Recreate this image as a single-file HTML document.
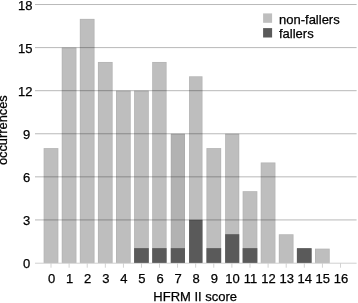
<!DOCTYPE html>
<html><head><meta charset="utf-8"><title>HFRM II score</title>
<style>
html,body{margin:0;padding:0;background:#fff;}
.t{font-family:"Liberation Sans",Arial,sans-serif;font-size:13px;fill:#000;stroke:#000;stroke-width:0.25px;}
</style></head><body>
<svg width="358" height="303" viewBox="0 0 358 303" style="display:block">
<rect width="358" height="303" fill="#fff"/>
<rect x="35" y="262.70" width="321.6" height="1.0" fill="#d0d0d0"/>
<rect x="43.65" y="148.12" width="14.70" height="114.73" fill="#bebebe"/>
<rect x="44.05" y="148.52" width="13.90" height="114.33" fill="none" stroke="#000" stroke-opacity="0.05" stroke-width="0.8"/>
<rect x="61.74" y="47.60" width="14.70" height="215.25" fill="#bebebe"/>
<rect x="62.14" y="48.00" width="13.90" height="214.85" fill="none" stroke="#000" stroke-opacity="0.05" stroke-width="0.8"/>
<rect x="79.83" y="18.88" width="14.70" height="243.97" fill="#bebebe"/>
<rect x="80.23" y="19.28" width="13.90" height="243.57" fill="none" stroke="#000" stroke-opacity="0.05" stroke-width="0.8"/>
<rect x="97.92" y="61.96" width="14.70" height="200.89" fill="#bebebe"/>
<rect x="98.32" y="62.36" width="13.90" height="200.49" fill="none" stroke="#000" stroke-opacity="0.05" stroke-width="0.8"/>
<rect x="116.01" y="90.68" width="14.70" height="172.17" fill="#bebebe"/>
<rect x="116.41" y="91.08" width="13.90" height="171.77" fill="none" stroke="#000" stroke-opacity="0.05" stroke-width="0.8"/>
<rect x="134.10" y="90.68" width="14.70" height="172.17" fill="#bebebe"/>
<rect x="134.50" y="91.08" width="13.90" height="171.77" fill="none" stroke="#000" stroke-opacity="0.05" stroke-width="0.8"/>
<rect x="134.10" y="248.14" width="14.70" height="14.71" fill="#5a5a5a"/>
<rect x="152.19" y="61.96" width="14.40" height="200.89" fill="#bebebe"/>
<rect x="152.59" y="62.36" width="13.60" height="200.49" fill="none" stroke="#000" stroke-opacity="0.05" stroke-width="0.8"/>
<rect x="152.19" y="248.14" width="14.40" height="14.71" fill="#5a5a5a"/>
<rect x="170.78" y="133.76" width="14.20" height="129.09" fill="#b2b2b2"/>
<rect x="171.18" y="134.16" width="13.40" height="128.69" fill="none" stroke="#000" stroke-opacity="0.05" stroke-width="0.8"/>
<rect x="170.78" y="248.14" width="14.20" height="14.71" fill="#5a5a5a"/>
<rect x="189.07" y="76.32" width="13.40" height="186.53" fill="#bebebe"/>
<rect x="189.47" y="76.72" width="12.60" height="186.13" fill="none" stroke="#000" stroke-opacity="0.05" stroke-width="0.8"/>
<rect x="189.07" y="219.82" width="13.40" height="43.03" fill="#5a5a5a"/>
<rect x="206.46" y="148.12" width="14.70" height="114.73" fill="#bebebe"/>
<rect x="206.86" y="148.52" width="13.90" height="114.33" fill="none" stroke="#000" stroke-opacity="0.05" stroke-width="0.8"/>
<rect x="206.46" y="248.14" width="14.70" height="14.71" fill="#5a5a5a"/>
<rect x="225.15" y="133.76" width="14.10" height="129.09" fill="#bebebe"/>
<rect x="225.55" y="134.16" width="13.30" height="128.69" fill="none" stroke="#000" stroke-opacity="0.05" stroke-width="0.8"/>
<rect x="225.15" y="234.18" width="14.10" height="28.67" fill="#5a5a5a"/>
<rect x="242.64" y="191.20" width="14.70" height="71.65" fill="#bebebe"/>
<rect x="243.04" y="191.60" width="13.90" height="71.25" fill="none" stroke="#000" stroke-opacity="0.05" stroke-width="0.8"/>
<rect x="242.64" y="248.14" width="14.70" height="14.71" fill="#5a5a5a"/>
<rect x="260.73" y="162.48" width="14.70" height="100.37" fill="#bebebe"/>
<rect x="261.13" y="162.88" width="13.90" height="99.97" fill="none" stroke="#000" stroke-opacity="0.05" stroke-width="0.8"/>
<rect x="278.82" y="234.28" width="14.70" height="28.57" fill="#bebebe"/>
<rect x="279.22" y="234.68" width="13.90" height="28.17" fill="none" stroke="#000" stroke-opacity="0.05" stroke-width="0.8"/>
<rect x="296.91" y="248.64" width="14.70" height="14.21" fill="#bebebe"/>
<rect x="297.31" y="249.04" width="13.90" height="13.81" fill="none" stroke="#000" stroke-opacity="0.05" stroke-width="0.8"/>
<rect x="296.91" y="248.14" width="14.70" height="14.71" fill="#5a5a5a"/>
<rect x="315.00" y="248.64" width="14.70" height="14.21" fill="#bebebe"/>
<rect x="315.40" y="249.04" width="13.90" height="13.81" fill="none" stroke="#000" stroke-opacity="0.05" stroke-width="0.8"/>
<rect x="35" y="219.42" width="321.6" height="1" fill="#000" fill-opacity="0.28"/>
<rect x="35" y="176.34" width="321.6" height="1" fill="#000" fill-opacity="0.28"/>
<rect x="35" y="133.26" width="321.6" height="1" fill="#000" fill-opacity="0.28"/>
<rect x="35" y="90.18" width="321.6" height="1" fill="#000" fill-opacity="0.28"/>
<rect x="35" y="47.10" width="321.6" height="1" fill="#000" fill-opacity="0.28"/>
<rect x="35" y="4.02" width="321.6" height="1" fill="#000" fill-opacity="0.28"/>
<rect x="50.60" y="263.70" width="0.8" height="4.0" fill="#000" fill-opacity="0.22"/>
<text transform="translate(51.50,283.00) scale(1,1.0)" text-anchor="middle" class="t">0</text>
<rect x="68.69" y="263.70" width="0.8" height="4.0" fill="#000" fill-opacity="0.22"/>
<text transform="translate(69.59,283.00) scale(1,1.0)" text-anchor="middle" class="t">1</text>
<rect x="86.78" y="263.70" width="0.8" height="4.0" fill="#000" fill-opacity="0.22"/>
<text transform="translate(87.68,283.00) scale(1,1.0)" text-anchor="middle" class="t">2</text>
<rect x="104.87" y="263.70" width="0.8" height="4.0" fill="#000" fill-opacity="0.22"/>
<text transform="translate(105.77,283.00) scale(1,1.0)" text-anchor="middle" class="t">3</text>
<rect x="122.96" y="263.70" width="0.8" height="4.0" fill="#000" fill-opacity="0.22"/>
<text transform="translate(123.86,283.00) scale(1,1.0)" text-anchor="middle" class="t">4</text>
<rect x="141.05" y="263.70" width="0.8" height="4.0" fill="#000" fill-opacity="0.22"/>
<text transform="translate(141.95,283.00) scale(1,1.0)" text-anchor="middle" class="t">5</text>
<rect x="159.14" y="263.70" width="0.8" height="4.0" fill="#000" fill-opacity="0.22"/>
<text transform="translate(160.04,283.00) scale(1,1.0)" text-anchor="middle" class="t">6</text>
<rect x="177.23" y="263.70" width="0.8" height="4.0" fill="#000" fill-opacity="0.22"/>
<text transform="translate(178.13,283.00) scale(1,1.0)" text-anchor="middle" class="t">7</text>
<rect x="195.32" y="263.70" width="0.8" height="4.0" fill="#000" fill-opacity="0.22"/>
<text transform="translate(196.22,283.00) scale(1,1.0)" text-anchor="middle" class="t">8</text>
<rect x="213.41" y="263.70" width="0.8" height="4.0" fill="#000" fill-opacity="0.22"/>
<text transform="translate(214.31,283.00) scale(1,1.0)" text-anchor="middle" class="t">9</text>
<rect x="231.50" y="263.70" width="0.8" height="4.0" fill="#000" fill-opacity="0.22"/>
<text transform="translate(232.40,283.00) scale(1,1.0)" text-anchor="middle" class="t">10</text>
<rect x="249.59" y="263.70" width="0.8" height="4.0" fill="#000" fill-opacity="0.22"/>
<text transform="translate(250.49,283.00) scale(1,1.0)" text-anchor="middle" class="t">11</text>
<rect x="267.68" y="263.70" width="0.8" height="4.0" fill="#000" fill-opacity="0.22"/>
<text transform="translate(268.58,283.00) scale(1,1.0)" text-anchor="middle" class="t">12</text>
<rect x="285.77" y="263.70" width="0.8" height="4.0" fill="#000" fill-opacity="0.22"/>
<text transform="translate(286.67,283.00) scale(1,1.0)" text-anchor="middle" class="t">13</text>
<rect x="303.86" y="263.70" width="0.8" height="4.0" fill="#000" fill-opacity="0.22"/>
<text transform="translate(304.76,283.00) scale(1,1.0)" text-anchor="middle" class="t">14</text>
<rect x="321.95" y="263.70" width="0.8" height="4.0" fill="#000" fill-opacity="0.22"/>
<text transform="translate(322.85,283.00) scale(1,1.0)" text-anchor="middle" class="t">15</text>
<rect x="340.04" y="263.70" width="0.8" height="4.0" fill="#000" fill-opacity="0.22"/>
<text transform="translate(340.94,283.00) scale(1,1.0)" text-anchor="middle" class="t">16</text>
<text transform="translate(30.20,267.90) scale(1,1.0)" text-anchor="end" class="t">0</text>
<text transform="translate(30.20,224.82) scale(1,1.0)" text-anchor="end" class="t">3</text>
<text transform="translate(30.20,181.74) scale(1,1.0)" text-anchor="end" class="t">6</text>
<text transform="translate(30.20,138.66) scale(1,1.0)" text-anchor="end" class="t">9</text>
<text transform="translate(32.40,95.58) scale(1,1.0)" text-anchor="end" class="t">12</text>
<text transform="translate(32.40,52.50) scale(1,1.0)" text-anchor="end" class="t">15</text>
<text transform="translate(32.40,10.42) scale(1,1.0)" text-anchor="end" class="t">18</text>
<rect x="263.1" y="13.4" width="9" height="9.4" fill="#bebebe"/>
<rect x="263.1" y="28.1" width="9" height="9.4" fill="#5a5a5a"/>
<text transform="translate(279.00,23.70) scale(1,1.0)" class="t">non-fallers</text>
<text transform="translate(279.00,38.00) scale(1,1.0)" class="t">fallers</text>
<text transform="translate(195.20,301.10) scale(1,1.0)" text-anchor="middle" class="t">HFRM II score</text>
<text transform="translate(7.1,130.2) rotate(-90)" text-anchor="middle" class="t" style="font-size:12.8px">occurrences</text>
</svg>
</body></html>
